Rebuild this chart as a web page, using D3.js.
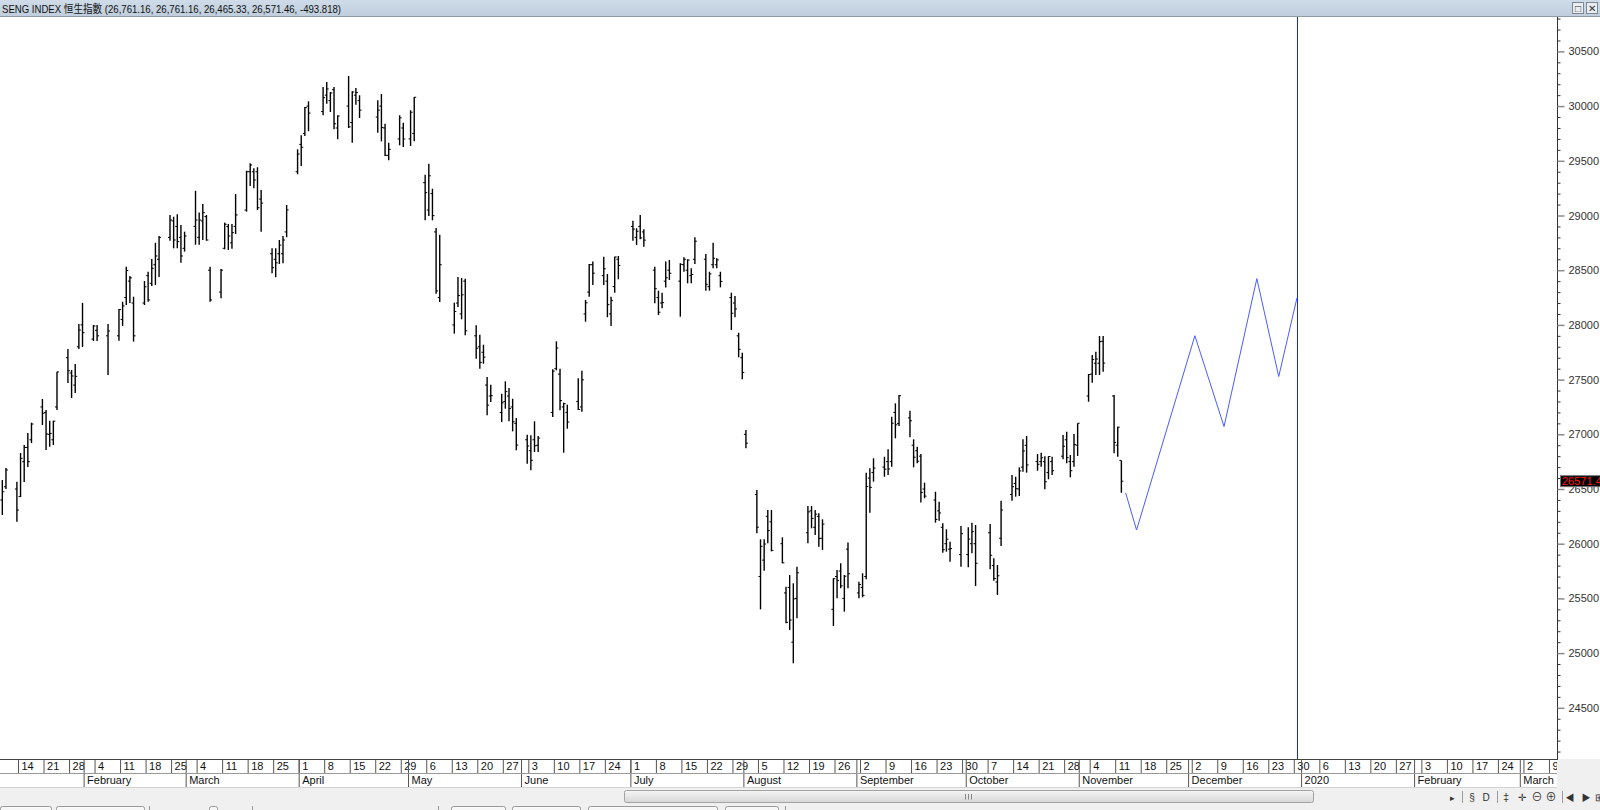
<!DOCTYPE html>
<html><head><meta charset="utf-8">
<script src="https://cdn.jsdelivr.net/npm/d3@7"></script>
<style>
html,body{margin:0;padding:0;background:#fff;overflow:hidden}
svg{display:block}
text{font-family:"Liberation Sans",Arial,"Noto Sans CJK TC",sans-serif}
</style></head>
<body>
<svg id="chart" width="1600" height="810"></svg>
<script>
// ---------------- DATA ----------------
const titleText = "SENG INDEX 恒生指數 (26,761.16, 26,761.16, 26,465.33, 26,571.46, -493.818)";
const dates = ["2019-01-10","2019-01-11","2019-01-14","2019-01-15","2019-01-16","2019-01-17","2019-01-18","2019-01-21","2019-01-22","2019-01-23","2019-01-24","2019-01-25","2019-01-28","2019-01-29","2019-01-30","2019-01-31","2019-02-01","2019-02-04","2019-02-05","2019-02-08","2019-02-11","2019-02-12","2019-02-13","2019-02-14","2019-02-15","2019-02-18","2019-02-19","2019-02-20","2019-02-21","2019-02-22","2019-02-25","2019-02-26","2019-02-27","2019-02-28","2019-03-01","2019-03-04","2019-03-05","2019-03-06","2019-03-07","2019-03-08","2019-03-11","2019-03-12","2019-03-13","2019-03-14","2019-03-15","2019-03-18","2019-03-19","2019-03-20","2019-03-21","2019-03-22","2019-03-25","2019-03-26","2019-03-27","2019-03-28","2019-03-29","2019-04-01","2019-04-02","2019-04-03","2019-04-04","2019-04-08","2019-04-09","2019-04-10","2019-04-11","2019-04-12","2019-04-15","2019-04-16","2019-04-17","2019-04-18","2019-04-23","2019-04-24","2019-04-25","2019-04-26","2019-04-29","2019-04-30","2019-05-02","2019-05-03","2019-05-06","2019-05-07","2019-05-08","2019-05-09","2019-05-10","2019-05-14","2019-05-15","2019-05-16","2019-05-17","2019-05-20","2019-05-21","2019-05-22","2019-05-23","2019-05-24","2019-05-27","2019-05-28","2019-05-29","2019-05-30","2019-05-31","2019-06-03","2019-06-04","2019-06-05","2019-06-06","2019-06-10","2019-06-11","2019-06-12","2019-06-13","2019-06-14","2019-06-17","2019-06-18","2019-06-19","2019-06-20","2019-06-21","2019-06-24","2019-06-25","2019-06-26","2019-06-27","2019-06-28","2019-07-02","2019-07-03","2019-07-04","2019-07-05","2019-07-08","2019-07-09","2019-07-10","2019-07-11","2019-07-12","2019-07-15","2019-07-16","2019-07-17","2019-07-18","2019-07-19","2019-07-22","2019-07-23","2019-07-24","2019-07-25","2019-07-26","2019-07-29","2019-07-30","2019-07-31","2019-08-01","2019-08-02","2019-08-05","2019-08-06","2019-08-07","2019-08-08","2019-08-09","2019-08-12","2019-08-13","2019-08-14","2019-08-15","2019-08-16","2019-08-19","2019-08-20","2019-08-21","2019-08-22","2019-08-23","2019-08-26","2019-08-27","2019-08-28","2019-08-29","2019-08-30","2019-09-02","2019-09-03","2019-09-04","2019-09-05","2019-09-06","2019-09-09","2019-09-10","2019-09-11","2019-09-12","2019-09-13","2019-09-16","2019-09-17","2019-09-18","2019-09-19","2019-09-20","2019-09-23","2019-09-24","2019-09-25","2019-09-26","2019-09-27","2019-09-30","2019-10-02","2019-10-03","2019-10-04","2019-10-08","2019-10-09","2019-10-10","2019-10-11","2019-10-14","2019-10-15","2019-10-16","2019-10-17","2019-10-18","2019-10-21","2019-10-22","2019-10-23","2019-10-24","2019-10-25","2019-10-28","2019-10-29","2019-10-30","2019-10-31","2019-11-01","2019-11-04","2019-11-05","2019-11-06","2019-11-07","2019-11-08","2019-11-11","2019-11-12","2019-11-13"];
const opens  = [26400,26520,26500,26430,26750,26880,26950,27250,27200,27000,26950,27250,27700,27560,27450,27800,28000,27870,27950,27900,27900,28050,28250,28400,28200,28200,28450,28380,28550,28600,28800,28950,28900,28800,28700,28900,28800,28950,28990,28500,28300,28700,28900,28750,28900,29050,29400,29400,29400,29150,28650,28600,28650,28650,28850,29400,29650,29750,30000,29950,30100,30050,30150,29800,30000,29850,30100,30050,29900,30000,29800,29550,29700,29800,29700,29750,29300,29050,29200,28850,28250,28000,28200,28100,28400,27900,27800,27750,27450,27350,27200,27300,27350,27250,27100,26950,26850,26950,26900,27200,27600,27550,27250,27200,27300,27250,28100,28300,28550,28450,28400,28100,28350,28600,28900,28800,28900,28850,28500,28250,28200,28400,28500,28400,28550,28500,28450,28600,28600,28350,28550,28550,28450,28250,28200,27900,27700,27000,26450,25700,25850,26250,26200,26000,25550,25600,25100,25500,26100,26300,26150,26250,26050,25400,25700,25750,25500,25950,25550,25600,25700,26600,26650,26700,26750,26750,27200,27100,27150,26900,26850,26800,26500,26400,26300,26150,26000,25950,25900,25900,26000,26000,26100,25800,25650,26050,26450,26550,26500,26700,26900,26750,26750,26750,26650,26750,26800,26950,26750,26750,26900,27350,27550,27650,27650,27850,27350,26900,26761.16];
const highs  = [26582,26693,26567,26829,26902,27012,27106,27323,27222,27124,27124,27572,27780,27588,27643,28009,28201,27999,27999,28008,28145,28212,28532,28447,28258,28401,28486,28602,28751,28813,29005,28989,29011,28913,28852,29226,29028,29105,29005,28532,28511,28935,28923,28923,29196,29409,29477,29432,29441,29233,28700,28700,28776,28813,29096,29605,29733,29992,30044,30175,30220,30129,30175,29916,30275,30135,30166,30099,30053,30111,29839,29665,29916,29848,29962,30083,29373,29474,29245,28886,28824,28203,28438,28429,28422,27996,27910,27819,27524,27453,27371,27484,27423,27325,27149,26996,26991,27119,26984,27594,27850,27600,27289,27271,27512,27581,28228,28557,28579,28624,28465,28258,28624,28630,28953,28883,29005,28874,28532,28313,28294,28579,28594,28564,28619,28600,28517,28801,28648,28486,28751,28609,28486,28294,28264,27929,27746,27039,26491,26040,26040,26309,26309,26058,25607,25714,25638,25790,26345,26345,26309,26278,26223,25684,25760,25821,25714,26010,25653,25730,26649,26689,26781,26795,26863,27161,27283,27359,27216,26954,26887,26820,26558,26475,26384,26186,26132,26018,26162,26150,26192,26171,26180,25867,25805,26393,26628,26612,26698,26954,26984,26820,26832,26799,26799,26795,26993,27024,26811,27003,27101,27551,27725,27755,27898,27898,27359,27069,26761.16];
const lows   = [26262,26500,26201,26427,26564,26701,26920,27085,26857,26887,26902,27222,27469,27332,27378,27780,27798,27853,27853,27541,27856,27990,28182,28200,27847,28182,28212,28356,28365,28438,28770,28700,28700,28569,28670,28733,28733,28776,28770,28212,28243,28691,28685,28697,28831,29035,29270,29249,29050,28852,28472,28435,28557,28563,28801,29377,29453,29727,29770,29916,30022,29946,29788,29697,29800,29665,30013,29891,29757,29678,29544,29505,29642,29626,29635,29678,28956,28995,28956,28285,28209,27920,28164,28051,27905,27691,27600,27645,27174,27295,27112,27234,27119,27027,26854,26731,26671,26838,26838,27158,27585,27219,26832,27051,27222,27207,28029,28258,28365,28365,28070,27990,28295,28417,28770,28730,28782,28715,28197,28090,28152,28343,28411,28075,28486,28380,28380,28557,28313,28313,28517,28517,28343,27953,28070,27704,27503,26872,26095,25400,25753,26004,25930,25821,25272,25211,24907,25318,26004,26141,26080,25973,25943,25248,25501,25592,25379,25592,25501,25510,25675,26283,26567,26612,26628,26704,26963,27076,26973,26698,26735,26376,26415,26192,26210,25918,25927,25835,25790,25784,25912,25613,25766,25662,25531,25979,26393,26430,26436,26658,26649,26667,26704,26497,26589,26628,26771,26735,26607,26704,26802,27298,27472,27542,27542,27572,26826,26795,26465.33];
const closes = [26475,26674,26308,26780,26880,26750,27094,27192,27003,27008,27120,27570,27581,27533,27530,27953,27929,27990,27900,27944,28140,28173,28497,28430,27900,28349,28228,28517,28630,28800,28959,28776,28761,28630,28813,28959,28959,29026,28776,28228,28500,28920,28813,28843,29005,29400,29462,29325,29071,29113,28523,28567,28729,28776,29051,29562,29624,29986,29936,30077,30157,30120,29839,29909,29810,30129,30124,29963,29963,29805,29550,29605,29893,29699,29944,30081,29209,29363,28999,28311,28550,28122,28268,28275,27946,27787,27657,27706,27267,27353,27288,27390,27235,27115,26901,26893,26762,26895,26965,27578,27789,27308,27280,27112,27227,27498,28202,28550,28473,28513,28185,28222,28621,28543,28876,28856,28795,28775,28331,28116,28204,28431,28472,28554,28600,28593,28461,28765,28371,28466,28609,28594,28397,28107,28146,27777,27565,26919,26151,25976,25997,26120,25939,25825,25281,25302,25495,25734,26291,26231,26270,26048,26179,25680,25664,25615,25703,25725,25627,25527,26523,26515,26691,26681,26683,27101,27087,27353,27124,26790,26754,26469,26435,26222,26281,25945,26041,25955,26092,26042,26110,25821,25894,25682,25707,26308,26521,26503,26665,26848,26720,26726,26786,26566,26797,26667,26891,26786,26667,26906,27101,27547,27683,27688,27847,27651,26926,27065,26571.46];

// projection (blue zig-zag)
const projDates  = ["2019-11-14","2019-11-17","2019-12-03","2019-12-11","2019-12-20","2019-12-26","2019-12-31"];
const projValues = [26465, 26125, 27901, 27071, 28423, 27528, 28246];
const markerDate = "2019-12-31";

const yLabelTicks = [24500,25000,25500,26000,26500,27000,27500,28000,28500,29000,29500,30000,30500];
const lastPrice = 26571.46;
const monthNames = ["2020","February","March","April","May","June","July","August","September","October","November","December"];

// ---------------- SETUP ----------------
const parse = d3.timeParse("%Y-%m-%d");
const svg = d3.select("#chart");
const plotL = 0, plotR = 1557, plotT = 17, plotB = 759;

const x = d3.scaleTime()
  .domain([parse("2019-01-14"), parse("2019-12-30")])
  .range([17.5, 1293.3]);
const y = d3.scaleLinear().domain([27000, 30500]).range([434.3, 51.4]);

// backgrounds
svg.append("rect").attr("x",0).attr("y",0).attr("width",1600).attr("height",810).attr("fill","#f0f0f0");
svg.append("rect").attr("x",0).attr("y",plotT).attr("width",1600).attr("height",plotB-plotT).attr("fill","#ffffff");
svg.append("rect").attr("x",0).attr("y",plotB).attr("width",plotR).attr("height",28).attr("fill","#ffffff");

const defs = svg.append("defs");
defs.append("clipPath").attr("id","plotClip").append("rect")
  .attr("x",plotL).attr("y",plotT).attr("width",plotR-plotL).attr("height",plotB-plotT);
defs.append("clipPath").attr("id","axisClip").append("rect")
  .attr("x",0).attr("y",plotB).attr("width",plotR).attr("height",30);
defs.append("clipPath").attr("id","rightClip").append("rect")
  .attr("x",plotR).attr("y",plotT).attr("width",1600-plotR).attr("height",plotB-plotT);
const grad = defs.append("linearGradient").attr("id","thumbGrad").attr("x1",0).attr("y1",0).attr("x2",0).attr("y2",1);
grad.append("stop").attr("offset","0").attr("stop-color","#f6f6f6");
grad.append("stop").attr("offset","1").attr("stop-color","#d6d6d6");
const tgrad = defs.append("linearGradient").attr("id","titleGrad").attr("x1",0).attr("y1",0).attr("x2",0).attr("y2",1);
tgrad.append("stop").attr("offset","0").attr("stop-color","#cfdbe8");
tgrad.append("stop").attr("offset","1").attr("stop-color","#bfcddc");

// ---------------- TITLE BAR ----------------
svg.append("rect").attr("x",0).attr("y",0).attr("width",1600).attr("height",17).attr("fill","url(#titleGrad)");
svg.append("line").attr("x1",0).attr("x2",1600).attr("y1",16.5).attr("y2",16.5).attr("stroke","#8e9caa");
svg.append("text").attr("x",2).attr("y",12.5).attr("font-size",11).attr("fill","#111")
  .attr("textLength",339).attr("lengthAdjust","spacingAndGlyphs").text(titleText);
// window buttons
[[1572,"□"],[1586,"✕"]].forEach(([bx,ch])=>{
  svg.append("rect").attr("x",bx+0.5).attr("y",2.5).attr("width",11).attr("height",11)
    .attr("fill","#e9edf2").attr("stroke","#7d8894");
  svg.append("text").attr("x",bx+6).attr("y",12).attr("text-anchor","middle")
    .attr("font-size",10).attr("fill","#333").text(ch);
});

// ---------------- OHLC BARS ----------------
const ohlc = dates.map((d,i)=>({date:parse(d), o:opens[i], h:highs[i], l:lows[i], c:closes[i]}));
const gBars = svg.append("g").attr("clip-path","url(#plotClip)");
const bx = d => x(d.date) - 0.6;
gBars.selectAll("line.hl").data(ohlc).join("line").attr("class","hl")
  .attr("x1",bx).attr("x2",bx).attr("y1",d=>y(d.h)).attr("y2",d=>y(d.l))
  .attr("stroke","#000").attr("stroke-width",1.4);
gBars.selectAll("line.op").data(ohlc).join("line").attr("class","op")
  .attr("x1",d=>bx(d)-2).attr("x2",bx).attr("y1",d=>y(d.o)).attr("y2",d=>y(d.o))
  .attr("stroke","#000").attr("stroke-width",1);
gBars.selectAll("line.cl").data(ohlc).join("line").attr("class","cl")
  .attr("x1",bx).attr("x2",d=>bx(d)+2).attr("y1",d=>y(d.c)).attr("y2",d=>y(d.c))
  .attr("stroke","#000").attr("stroke-width",1);

// projection
const proj = projDates.map((d,i)=>({date:parse(d), v:projValues[i]}));
gBars.append("path").datum(proj)
  .attr("d", d3.line().x(d=>x(d.date)).y(d=>y(d.v)))
  .attr("fill","none").attr("stroke","#4a5cff").attr("stroke-width",1);
// vertical marker
const mx = Math.round(x(parse(markerDate))) + 0.5;
svg.append("line").attr("x1",mx).attr("x2",mx).attr("y1",plotT).attr("y2",plotB)
  .attr("stroke","#1f1fff").attr("stroke-width",1);

// ---------------- RIGHT AXIS ----------------
svg.append("line").attr("x1",plotR+0.5).attr("x2",plotR+0.5).attr("y1",plotT).attr("y2",plotB)
  .attr("stroke","#333");
const yMin = Math.ceil(y.invert(plotB)/100)*100, yMax = Math.floor(y.invert(plotT)/100)*100;
const minorTicks = d3.range(yMin, yMax+1, 100).filter(v=>v%500!==0);
const gMinor = svg.append("g").attr("transform",`translate(${plotR+0.5},0)`)
  .call(d3.axisRight(y).tickValues(minorTicks).tickSize(3).tickFormat(""));
gMinor.select(".domain").remove();
gMinor.selectAll(".tick line").attr("stroke","#333");
const gMajor = svg.append("g").attr("transform",`translate(${plotR+0.5},0)`)
  .call(d3.axisRight(y).tickValues(yLabelTicks).tickSize(7).tickPadding(4).tickFormat(d3.format("d")));
gMajor.select(".domain").remove();
gMajor.selectAll(".tick line").attr("stroke","#8a8a8a").attr("stroke-width",1.5);
gMajor.selectAll(".tick text").attr("font-size",11).attr("fill","#333")
  .attr("font-family",'"Liberation Sans",Arial,sans-serif');

// last price tag
const gTag = svg.append("g").attr("clip-path","url(#rightClip)");
const ty = y(lastPrice);
gTag.append("rect").attr("x",1560.5).attr("y",ty-5.5).attr("width",45).attr("height",11)
  .attr("fill","#000").attr("stroke","#777");
gTag.append("text").attr("x",1562).attr("y",ty+4).attr("font-size",11).attr("fill","#ff1a1a")
  .text(d3.format(".2f")(lastPrice));

// ---------------- BOTTOM TIME AXIS ----------------
const t0 = x.invert(plotL), t1 = x.invert(plotR);
const weeks = d3.timeMonday.range(t0, t1);
const months = d3.timeMonth.range(t0, t1);
const gAxis = svg.append("g").attr("clip-path","url(#axisClip)");
const gW = gAxis.append("g").attr("transform",`translate(0.5,${plotB})`)
  .call(d3.axisBottom(x).tickValues(weeks).tickSize(14).tickFormat(d3.timeFormat("%-d")));
gW.select(".domain").remove();
gW.selectAll(".tick line").attr("stroke","#555");
gW.selectAll(".tick text").attr("x",3).attr("y",11).attr("dy",null)
  .attr("text-anchor","start").attr("font-size",11).attr("fill","#111")
  .attr("font-family",'"Liberation Sans",Arial,sans-serif');
const gM = gAxis.append("g").attr("transform",`translate(0.5,${plotB})`)
  .call(d3.axisBottom(x).tickValues(months).tickSize(28).tickFormat(d=>monthNames[d.getMonth()]));
gM.select(".domain").remove();
gM.selectAll(".tick line").attr("stroke","#555");
gM.selectAll(".tick text").attr("x",3).attr("y",25).attr("dy",null)
  .attr("text-anchor","start").attr("font-size",11).attr("fill","#111")
  .attr("font-family",'"Liberation Sans",Arial,sans-serif');

svg.append("line").attr("x1",0).attr("x2",plotR+1).attr("y1",plotB+0.5).attr("y2",plotB+0.5).attr("stroke","#444");
svg.append("line").attr("x1",0).attr("x2",plotR).attr("y1",773.5).attr("y2",773.5).attr("stroke","#9a9a9a");
svg.append("line").attr("x1",0).attr("x2",plotR).attr("y1",787.5).attr("y2",787.5).attr("stroke","#d4d4d4");

// ---------------- SCROLLBAR / TOOLBAR ----------------
svg.append("rect").attr("x",624.5).attr("y",790.5).attr("width",689).attr("height",12).attr("rx",2)
  .attr("fill","url(#thumbGrad)").attr("stroke","#a3a3a3");
[-3,0,3].forEach(o=>svg.append("line").attr("x1",968.5+o).attr("x2",968.5+o).attr("y1",794).attr("y2",799.5).attr("stroke","#888"));

const icons = [[1452,"▸",9],[1472,"§",10],[1486,"D",10],[1506,"‡",11],[1522,"✛",10],[1537,"⊖",11],[1551,"⊕",11],[1570,"◀",9],[1586,"▶",9],[1599,"⊞",10]];
icons.forEach(([ix,ch,fs])=>svg.append("text").attr("x",ix).attr("y",801).attr("text-anchor","middle")
  .attr("font-size",fs).attr("fill","#333").attr("font-family","DejaVu Sans, sans-serif").text(ch));
[1462,1497,1562].forEach(sx=>svg.append("line").attr("x1",sx+0.5).attr("x2",sx+0.5).attr("y1",791).attr("y2",803).attr("stroke","#9a9a9a"));

// bottom tab strip
const tabs = [[0,51],[56,144],[209,217],[451,505],[512,580],[588,717],[725,778]];
tabs.forEach(([a,b])=>svg.append("rect").attr("x",a+0.5).attr("y",806.5).attr("width",b-a).attr("height",10).attr("rx",2)
  .attr("fill","#f7f7f7").attr("stroke","#9a9a9a"));
[149,252,438,785].forEach(sx=>svg.append("line").attr("x1",sx+0.5).attr("x2",sx+0.5).attr("y1",806).attr("y2",810).attr("stroke","#9a9a9a"));
</script>
</body></html>
